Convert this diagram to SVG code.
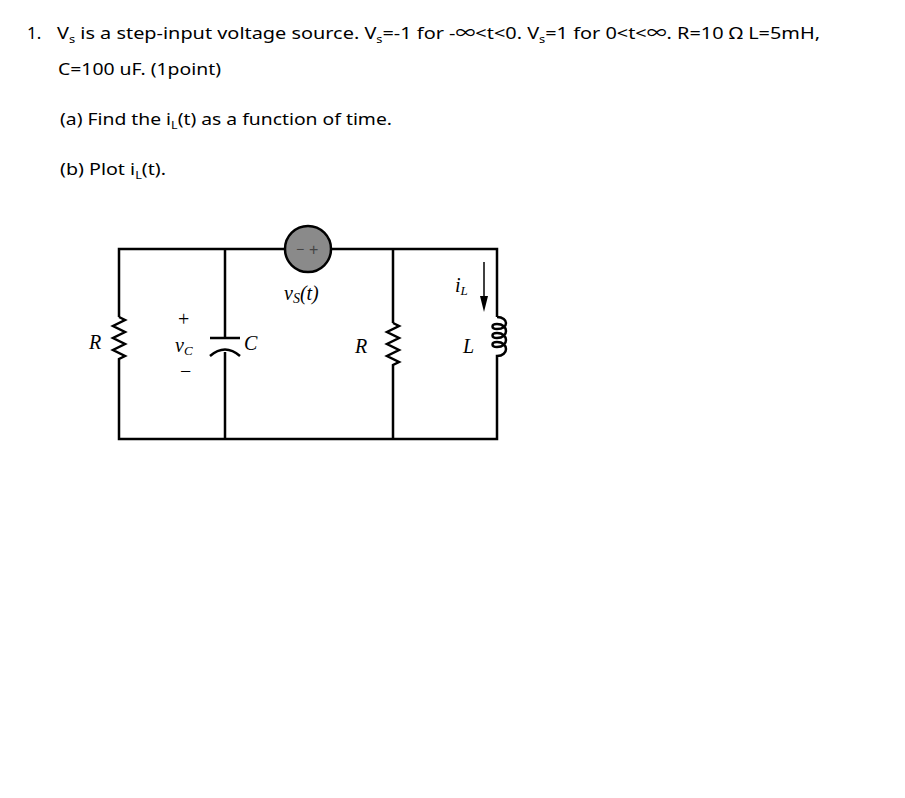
<svg xmlns="http://www.w3.org/2000/svg" width="905" height="798" viewBox="0 0 905 798">
<style>
.t{font-family:"Noto Sans","Noto Sans CJK KR",sans-serif;font-size:17px;fill:#000}
.s{font-size:11px}
.m{font-family:"Liberation Serif",serif;font-style:italic;font-size:20px;fill:#000}
.w{fill:none;stroke:#000;stroke-width:2.5}
</style>
<rect width="905" height="798" fill="#fff"/>
<g id="text">
<text class="t" x="27" y="39">1.</text>
<text class="t" x="57" y="39" textLength="763" lengthAdjust="spacingAndGlyphs">V<tspan class="s" dy="4">s</tspan><tspan dy="-4"> is a step-input voltage source. V</tspan><tspan class="s" dy="4">s</tspan><tspan dy="-4">=-1 for -∞&lt;t&lt;0. V</tspan><tspan class="s" dy="4">s</tspan><tspan dy="-4">=1 for 0&lt;t&lt;∞. R=10 Ω L=5mH,</tspan></text>
<text class="t" x="58" y="75" textLength="163" lengthAdjust="spacingAndGlyphs">C=100 uF. (1point)</text>
<text class="t" x="60" y="125" textLength="332" lengthAdjust="spacingAndGlyphs">(a)  Find the i<tspan class="s" dy="4">L</tspan><tspan dy="-4">(t) as a function of time.</tspan></text>
<text class="t" x="60" y="175" textLength="106" lengthAdjust="spacingAndGlyphs">(b)  Plot i<tspan class="s" dy="4">L</tspan><tspan dy="-4">(t).</tspan></text>
</g>
<g id="connectors">
<path class="w" d="M285,249 H119 V317 M119,365 V439 H497 V373 M497,317 V249 H331 M225,249 V338 M225,352 V439 M393,249 V323 M393,367 V439"/>
</g>
<g id="R1"><path class="w" d="M119,317 l6,3 l-12,6 l12,6 l-12,6 l12,6 l-12,6 l12,6 l-6,3 V365"/><text class="m" x="89" y="349">R</text></g>
<g id="C"><path class="w" d="M210,338 H240 M210,356 Q225,343 240,356"/><text class="m" x="244" y="350">C</text>
<text class="m" x="178" y="326" style="font-style:normal">+</text><text class="m" x="175" y="352">v<tspan font-size="13" dy="3">C</tspan></text><text class="m" x="180" y="378" style="font-style:normal">−</text></g>
<g id="R2"><path class="w" d="M393,323 l6,3 l-12,6 l12,6 l-12,6 l12,6 l-12,6 l12,6 l-6,3 V367"/><text class="m" x="355" y="353">R</text></g>
<g id="L"><path class="w" d="M497,317 c12,0 12,12 0,12 c-6,0 -6,-5 0,-5 c12,0 12,14 0,14 c-6,0 -6,-5 0,-5 c12,0 12,14 0,14 c-6,0 -6,-5 0,-5 c12,0 12,14 0,14 V373"/><text class="m" x="463" y="353">L</text></g>
<g id="iL"><path d="M484,262 V300" stroke="#000" stroke-width="1.5"/><path d="M480,296 L484,312 L488,296 Z"/><text class="m" x="455" y="292">i<tspan font-size="13" dy="3">L</tspan></text></g>
<g id="vs"><circle cx="308" cy="249" r="23" fill="#8a8a8a" stroke="#000" stroke-width="2.5"/><text x="296" y="254" font-family="Liberation Sans" font-size="14" fill="#444">−</text><text x="309" y="255" font-family="Liberation Sans" font-size="16" fill="#444">+</text>
<text class="m" x="284" y="300">v<tspan font-size="14" dy="3">S</tspan><tspan dy="-3">(t)</tspan></text></g>
</svg>
